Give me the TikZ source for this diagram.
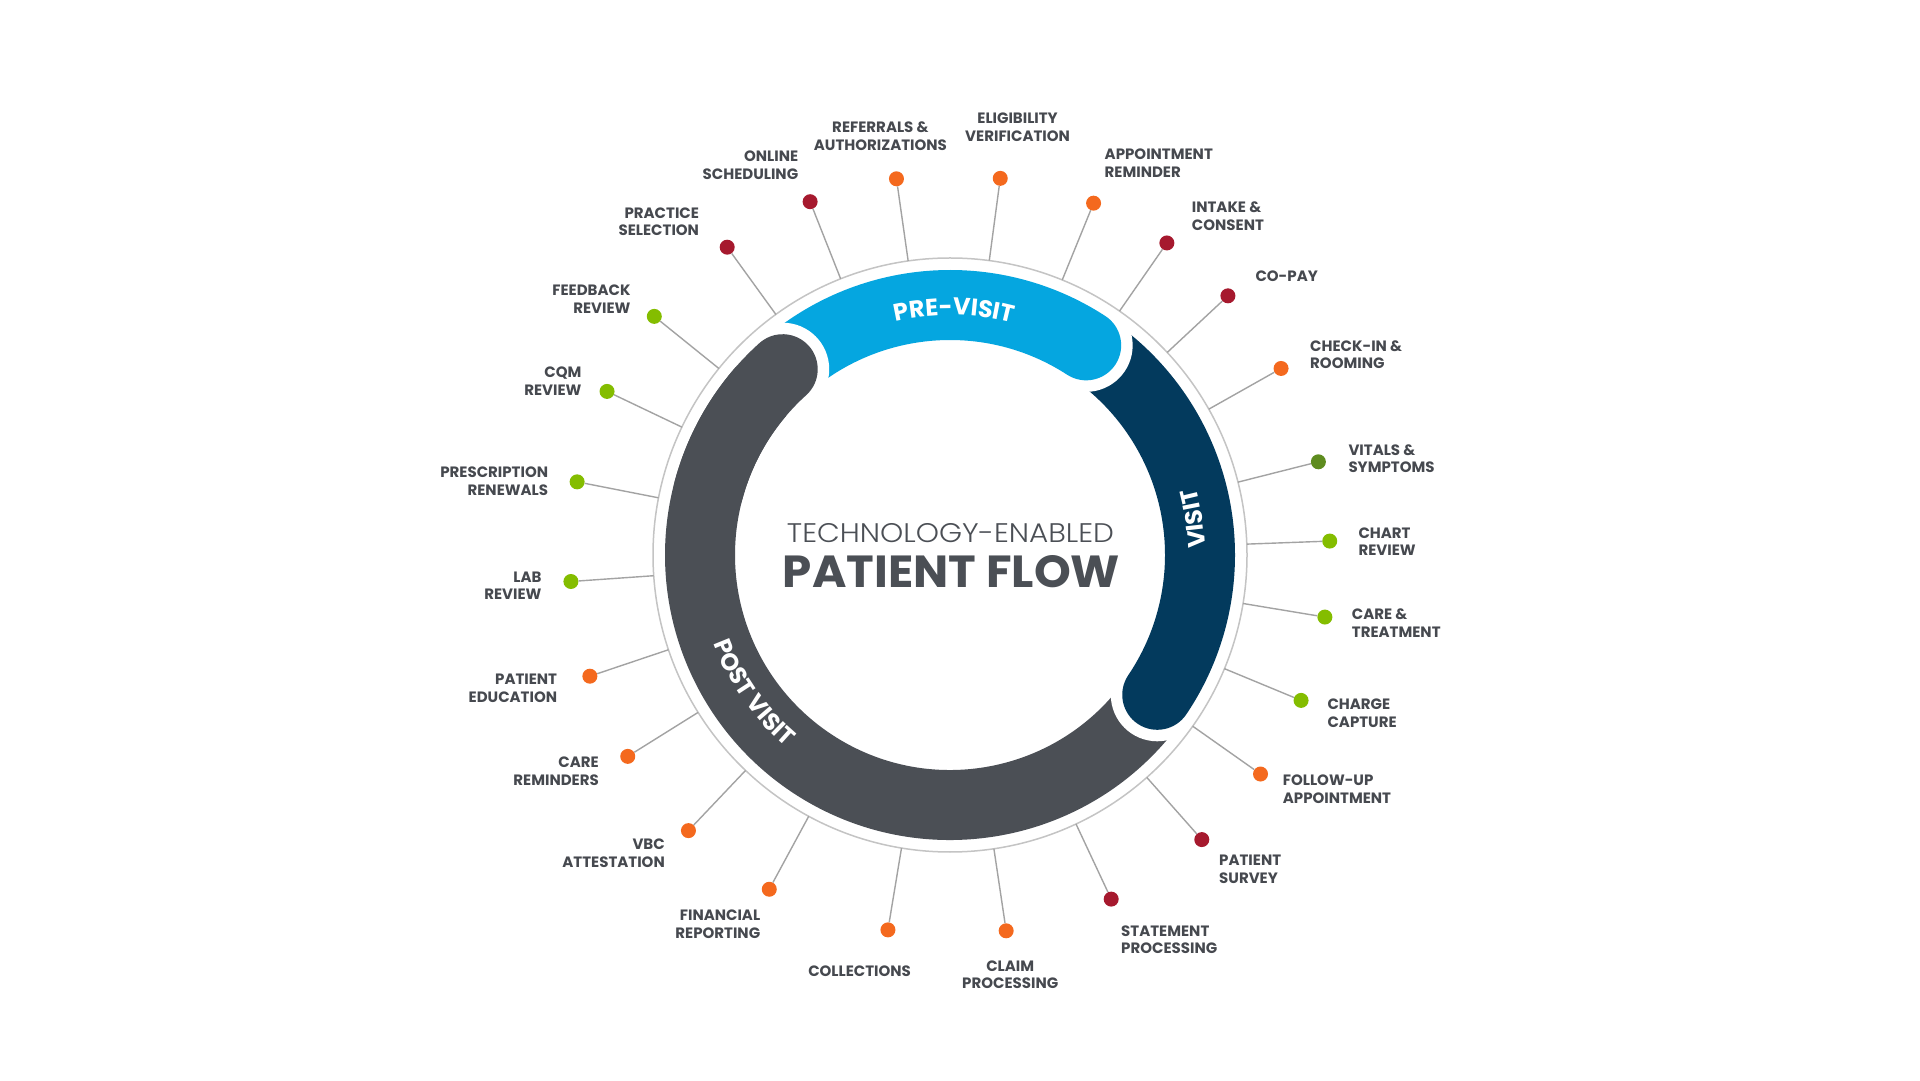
\documentclass[tikz,border=0pt]{standalone}
\usepackage{fontspec}
\usepackage{graphicx}
\setmainfont{Poppins}
\newfontfamily\lightfont{Poppins Light}
\usetikzlibrary{calc,decorations.text}
\definecolor{dred}{HTML}{A6192E}
\definecolor{orng}{HTML}{F4691E}
\definecolor{lime}{HTML}{84BD00}
\definecolor{olive}{HTML}{5E8C1F}
\definecolor{sky}{HTML}{05A6E0}
\definecolor{navy}{HTML}{033A5D}
\definecolor{slate}{HTML}{4B4F55}
\definecolor{lblgray}{HTML}{46494F}
\definecolor{ringgray}{HTML}{C4C4C4}
\definecolor{spokegray}{HTML}{A3A3A3}
\newcommand\lblfont{\bfseries\fontsize{15}{17.7}\selectfont}
\newcommand\segfont{\bfseries\fontsize{24}{24}\selectfont}
\tikzset{
  seg/.style={line width=70pt, line cap=round},
  ringline/.style={draw=ringgray, line width=1.5pt},
  spoke/.style={draw=spokegray, line width=1.4pt},
  dot/.style={circle, inner sep=0pt, minimum size=15pt, draw=none},
  lbl/.style={font=\lblfont, text=lblgray, inner sep=0pt},
  lblL/.style={lbl, anchor=east, align=right},
  lblR/.style={lbl, anchor=west, align=left},
  lblC/.style={lbl, anchor=center, align=center},
  segtext/.style={decorate, decoration={text along path, text={#1}, text align=center, text color=white}}
}
\begin{document}
\begin{tikzpicture}[x=1pt,y=1pt]
\useasboundingbox (0,0) rectangle (1920,1080);
\fill[white] (0,0) rectangle (1920,1080);
\coordinate (C) at (950,525);
% ring segments
\draw[seg, draw=slate] ($(C)+(-34:250)$) arc[start angle=-34, end angle=-228, radius=250];
\fill[white] ($(C)+(-34:250)$) circle[radius=46.5];
\draw[seg, draw=navy] ($(C)+(57:250)$) arc[start angle=57, end angle=-34, radius=250];
\fill[white] ($(C)+(57:250)$) circle[radius=46.5];
\draw[seg, draw=sky] ($(C)+(132:250)$) arc[start angle=132, end angle=57, radius=250];
\fill[white] ($(C)+(132:250)$) circle[radius=46.5];
\draw[seg, draw=slate] ($(C)+(165:250)$) arc[start angle=165, end angle=132, radius=250];
% segment titles
\path[segtext={|\segfont|PRE-VISIT}] ($(C)+(124:240)$) arc[start angle=124, end angle=54, radius=240];
\path[segtext={|\segfont|VISIT}] ($(C)+(-25:255)$) arc[start angle=-25, end angle=41.8, radius=255];
\path[segtext={|\segfont|POST VISIT}] ($(C)+(-180:252.5)$) arc[start angle=-180, end angle=-110, radius=252.5];
% outer thin ring
\draw[ringline] (C) circle[radius=297];
% spokes and dots
\foreach \a/\c [count=\i] in {125.9/dred, 111.6/dred, 98.1/orng, 82.4/orng, 67.8/orng, 55.2/dred, 43.0/dred, 29.4/orng, 14.2/olive, 2.1/lime, -9.4/lime, -22.5/lime, -35.2/orng, -48.5/dred, -64.9/dred, -81.5/orng, -99.4/orng, -118.4/orng, -133.5/orng, -148.0/orng, -161.4/orng, -176.0/lime, 168.9/lime, 154.5/lime, 141.1/lime} {
  \coordinate (s\i) at ($(C)+(\a:297)$);
  \node[dot, fill=\c] (d\i) at ($(C)+(\a:380)$) {};
  \draw[spoke] (s\i) -- (d\i);
}
% labels
\node[lblL] (l1) at (699.2,858.4) {PRACTICE\\SELECTION};
\node[lblL] (l2) at (798.4,914.7) {ONLINE\\SCHEDULING};
\node[lblC] (l3) at (880.4,943.5) {REFERRALS \&\\AUTHORIZATIONS};
\node[lblC] (l4) at (1017.6,952.7) {ELIGIBILITY\\VERIFICATION};
\node[lblR] (l5) at (1104.5,917.1) {APPOINTMENT\\REMINDER};
\node[lblR] (l6) at (1191.7,864) {INTAKE \&\\CONSENT};
\node[lblR] (l7) at (1255.3,803.7) {CO-PAY};
\node[lblR] (l8) at (1310,725.2) {CHECK-IN \&\\ROOMING};
\node[lblR] (l9) at (1348.3,621.2) {VITALS \&\\SYMPTOMS};
\node[lblR] (l10) at (1358.3,538.3) {CHART\\REVIEW};
\node[lblR] (l11) at (1351.7,457.2) {CARE \&\\TREATMENT};
\node[lblR] (l12) at (1327.3,367) {CHARGE\\CAPTURE};
\node[lblR] (l13) at (1282.7,290.8) {FOLLOW-UP\\APPOINTMENT};
\node[lblR] (l14) at (1219,210.7) {PATIENT\\SURVEY};
\node[lblR] (l15) at (1121,140.3) {STATEMENT\\PROCESSING};
\node[lblC] (l16) at (1010.2,105.3) {CLAIM\\PROCESSING};
\node[lblC] (l17) at (859.6,109) {COLLECTIONS};
\node[lblL] (l18) at (760.4,155.5) {FINANCIAL\\REPORTING};
\node[lblL] (l19) at (665,226.5) {VBC\\ATTESTATION};
\node[lblL] (l20) at (599,308.5) {CARE\\REMINDERS};
\node[lblL] (l21) at (557.3,392) {PATIENT\\EDUCATION};
\node[lblL] (l22) at (541.7,494.3) {LAB\\REVIEW};
\node[lblL] (l23) at (548.3,599) {PRESCRIPTION\\RENEWALS};
\node[lblL] (l24) at (581.7,698.7) {CQM\\REVIEW};
\node[lblL] (l25) at (630.7,781) {FEEDBACK\\REVIEW};
% centre title
\node[inner sep=0pt, text=slate] (t1) at (950.5,547.2) {\resizebox{327pt}{19pt}{\lightfont TECHNOLOGY-ENABLED}};
\node[inner sep=0pt, text=slate] (t2) at (951.5,508.3) {\resizebox{337pt}{32pt}{\bfseries PATIENT FLOW}};
\end{tikzpicture}
\end{document}
